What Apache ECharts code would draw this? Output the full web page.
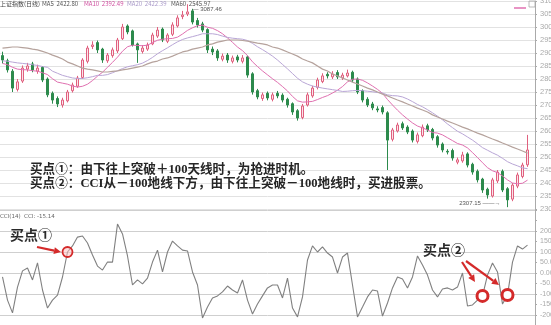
<!DOCTYPE html>
<html><head><meta charset="utf-8">
<script src="https://cdn.jsdelivr.net/npm/echarts@6/dist/echarts.min.js"></script>
<style>html,body{margin:0;padding:0;background:#fff}#c{width:551px;height:325px}</style>
</head><body><div id="c"></div>
<script>
// ---- data ----
const opens = [2890,2870,2830,2760,2792,2838,2858,2830,2845,2800,
2745,2725,2700,2716,2755,2772,2806,2868,2925,2940,
2915,2870,2890,2908,2955,3004,2985,2935,2906,2915,
2935,2965,2992,2945,2972,3004,3040,3050,3062,3025,
3012,2990,2915,2908,2876,2892,2868,2885,2868,2885,
2820,2755,2725,2745,2722,2745,2738,2722,2705,2678,
2652,2700,2735,2768,2790,2818,2808,2825,2804,2812,
2826,2800,2755,2722,2704,2685,2690,2670,2568,2600,
2628,2615,2600,2560,2582,2620,2606,2578,2550,2522,
2525,2480,2485,2512,2472,2445,2415,2376,2350,2408,
2445,2378,2338,2388,2425,2470];
const closes = [2873,2835,2765,2789,2842,2850,2835,2842,2796,2739,
2719,2704,2719,2750,2777,2804,2873,2919,2931,2912,
2873,2892,2912,2950,3000,2981,2931,2912,2919,2931,
2969,2988,2950,2969,3008,3035,3046,3058,3019,3008,
2988,2912,2904,2881,2888,2873,2881,2873,2881,2815,
2750,2731,2739,2727,2739,2735,2719,2700,2673,2650,
2696,2739,2765,2796,2812,2812,2819,2808,2815,2823,
2796,2750,2719,2700,2689,2681,2673,2565,2604,2623,
2612,2596,2565,2585,2615,2604,2573,2546,2527,2519,
2496,2489,2508,2469,2442,2412,2373,2354,2412,2442,
2373,2335,2392,2431,2469,2527];
const highs = [2905,2878,2838,2800,2852,2862,2866,2855,2850,2806,
2752,2733,2728,2758,2786,2812,2880,2928,2945,2948,
2920,2900,2921,2958,3012,3010,2990,2940,2930,2940,
2978,3000,2998,2976,3018,3045,3062,3087.46,3070,3035,
3020,2995,2925,2915,2898,2900,2890,2893,2892,2890,
2826,2762,2748,2752,2748,2754,2745,2728,2710,2684,
2704,2748,2774,2805,2822,2826,2830,2834,2824,2836,
2832,2806,2760,2730,2712,2695,2698,2676,2612,2632,
2636,2622,2606,2594,2625,2628,2612,2584,2556,2530,
2532,2498,2520,2518,2478,2452,2420,2382,2420,2450,
2452,2384,2400,2440,2478,2585];
const lows = [2860,2825,2750,2752,2785,2828,2826,2820,2788,2730,
2705,2692,2690,2710,2748,2766,2800,2860,2915,2900,
2862,2862,2882,2900,2950,2972,2925,2862,2898,2908,
2930,2958,2942,2938,2965,2998,3030,3042,3010,2998,
2980,2900,2892,2870,2868,2862,2860,2864,2860,2805,
2740,2722,2716,2718,2714,2726,2710,2690,2662,2640,
2645,2694,2728,2760,2784,2802,2800,2800,2796,2806,
2788,2742,2710,2692,2680,2672,2664,2450,2560,2594,
2604,2588,2556,2552,2576,2596,2564,2536,2518,2510,
2486,2472,2478,2460,2432,2402,2362,2340,2344,2400,
2365,2307.15,2330,2380,2418,2462];
const ma10 = [2860,2855,2845,2838,2836,2835,2832,2830,2824,2817,
2801,2788,2784,2780,2773,2769,2772,2780,2794,2811,
2826,2845,2864,2884,2907,2924,2930,2929,2928,2930,
2940,2949,2953,2955,2956,2961,2973,2987,2997,3005,
3007,2999,2995,2986,2974,2958,2941,2923,2909,2890,
2866,2848,2831,2816,2801,2787,2771,2754,2733,2716,
2711,2712,2714,2721,2729,2736,2746,2757,2771,2789,
2799,2800,2795,2785,2773,2760,2745,2721,2700,2680,
2662,2646,2631,2619,2612,2604,2594,2592,2585,2574,
2563,2552,2546,2535,2517,2498,2478,2459,2447,2440,
2427,2412,2400,2397,2399,2411];
const ma20 = [2870,2868,2865,2862,2860,2858,2855,2852,2848,2845,
2830,2822,2814,2809,2804,2802,2802,2805,2809,2814,
2814,2817,2824,2832,2840,2847,2851,2855,2861,2871,
2883,2897,2909,2920,2932,2943,2952,2958,2963,2968,
2974,2974,2974,2971,2965,2960,2957,2955,2953,2948,
2937,2924,2913,2901,2888,2873,2856,2839,2821,2803,
2789,2780,2773,2769,2765,2762,2759,2756,2752,2753,
2755,2756,2755,2753,2751,2748,2746,2739,2736,2735,
2731,2723,2713,2702,2693,2682,2670,2657,2643,2627,
2613,2599,2589,2577,2565,2551,2536,2526,2516,2507,
2495,2482,2473,2466,2458,2455];
const ma60 = [2919,2921,2923,2923,2921,2919,2915,2912,2906,2900,
2892,2885,2877,2865,2858,2850,2842,2838,2835,2831,
2827,2827,2829,2831,2835,2838,2842,2846,2850,2858,
2865,2869,2877,2881,2888,2896,2904,2908,2915,2919,
2923,2931,2935,2942,2946,2950,2950,2950,2948,2946,
2942,2938,2935,2931,2923,2919,2912,2904,2896,2888,
2877,2869,2862,2850,2838,2831,2819,2812,2804,2796,
2788,2781,2773,2765,2758,2750,2742,2735,2727,2719,
2712,2704,2696,2688,2681,2673,2662,2654,2646,2638,
2631,2623,2615,2608,2600,2592,2585,2577,2569,2562,
2554,2546,2538,2531,2523,2515];
const cci = [-19,-129,-190,-67,10,24,-33,48,-81,-167,
-129,-105,-19,100,129,171,176,143,86,33,
14,52,52,233,186,81,-57,-33,-52,-24,
52,109,5,100,152,129,109,105,5,-57,
-214,-162,-119,-109,-90,-62,-81,-95,-33,-129,
-195,-148,-109,-71,-57,-57,-119,-24,-167,-209,
-114,62,129,100,124,95,76,0,76,95,
-57,-209,-162,-114,-81,-86,-205,-143,-71,-19,
-29,-71,-19,81,38,-10,-81,-114,-76,-71,
-81,-67,0,-157,-152,-129,-109,-10,48,5,
-148,-105,52,129,114,133];
const legendTexts = ['上证指数(日线)','MA5  2422.80','MA10  2392.49','MA20  2422.39','MA60  2545.97'];
const cciTitle = 'CCI(14)  CCI: -15.14';
const note1 = '买点①：由下往上突破＋100天线时，为抢进时机。';
const note2 = '买点②：CCI从－100地线下方，由下往上突破－100地线时，买进股票。';
const buy1Label = '买点①', buy2Label = '买点②';
const highLabel = 3087.46, lowLabel = 2307.15;
const buyPoints1 = [[13, 100]];
const buyPoints2 = [[96, -109], [101, -105]];

// ---- build ----
const days = closes.map((_, i) => String(i + 1)).concat(['']);
const kData = closes.map((c, i) => [opens[i], c, lows[i], highs[i]]);
const red = '#d42a2a';
function arrow(x1, y1, x2, y2) {
  const a = Math.atan2(y2 - y1, x2 - x1), L = 7, W = 3.5;
  const bx = x2 - L * Math.cos(a), by = y2 - L * Math.sin(a);
  const nx = -Math.sin(a) * W, ny = Math.cos(a) * W;
  return [
    {type: 'line', shape: {x1, y1, x2: bx, y2: by}, style: {stroke: red, lineWidth: 2.2}, z: 100},
    {type: 'polygon', shape: {points: [[x2, y2], [bx + nx, by + ny], [bx - nx, by - ny]]}, style: {fill: red}, z: 100}
  ];
}
const legendX = [0, 42, 84, 127, 171];
const legendColors = ['#444', '#555', '#d050a0', '#a898c8', '#555'];
const graphics = legendTexts.map((t, i) => ({
  type: 'text', x: legendX[i], y: 1, z: 100,
  style: {text: t, fill: legendColors[i], font: '6px "Noto Sans CJK SC", sans-serif'}
}));
graphics.push(
  {type: 'text', x: 0, y: 214, z: 100, style: {text: cciTitle, fill: '#666', font: '5.5px "DejaVu Sans", sans-serif'}},
  {type: 'text', x: 30, y: 170, z: 100, style: {text: note1, fill: '#262626', verticalAlign: 'middle', font: 'bold 12.6px "Liberation Serif", "Noto Sans CJK SC", serif'}},
  {type: 'text', x: 30, y: 183.5, z: 100, style: {text: note2, fill: '#262626', verticalAlign: 'middle', font: 'bold 12.6px "Liberation Serif", "Noto Sans CJK SC", serif'}},
  {type: 'text', x: 10, y: 235, z: 100, style: {text: buy1Label, fill: '#2a2a2a', verticalAlign: 'middle', font: 'bold 14px "Noto Sans CJK SC", sans-serif'}},
  {type: 'text', x: 423, y: 250, z: 100, style: {text: buy2Label, fill: '#2a2a2a', verticalAlign: 'middle', font: 'bold 14px "Noto Sans CJK SC", sans-serif'}},
  {type: 'rect', shape: {x: 529, y: 1, width: 6, height: 6}, style: {fill: 'none', stroke: '#aaa', lineWidth: 0.8}, z: 100},
  {type: 'line', shape: {x1: 514, y1: 8, x2: 526, y2: 8}, style: {stroke: '#e070b0', lineWidth: 1.5}, z: 100},
  ...arrow(37, 247, 61, 252),
  ...arrow(462, 262, 475, 282),
  ...arrow(466, 261, 499, 285)
);

const chart = echarts.init(document.getElementById('c'), null, {renderer: 'canvas'});
chart.setOption({
  animation: false,
  backgroundColor: '#fff',
  grid: [
    {left: 0, right: 16, top: 1, height: 208, outerBoundsMode: 'none', containLabel: false},
    {left: 0, right: 16, top: 210, height: 126, outerBoundsMode: 'none', containLabel: false}
  ],
  xAxis: [0, 1].map(g => ({
    type: 'category', gridIndex: g, data: days, boundaryGap: true,
    axisLine: {show: false}, axisTick: {show: false}, axisLabel: {show: false}, splitLine: {show: false}
  })),
  yAxis: [
    {type: 'value', gridIndex: 0, position: 'right', min: 2300, max: 3100, interval: 50,
     axisLine: {show: true, lineStyle: {color: '#aaa'}}, axisTick: {show: true, length: 2, lineStyle: {color: '#aaa'}},
     axisLabel: {color: '#aaa', fontSize: 7.5, margin: 5, formatter: v => v.toFixed(2)},
     splitLine: {lineStyle: {color: '#e2e2e2', width: 1}}},
    {type: 'value', gridIndex: 1, position: 'right', min: -300, max: 300, interval: 50,
     axisLine: {show: true, lineStyle: {color: '#aaa'}}, axisTick: {show: true, length: 2, lineStyle: {color: '#aaa'}},
     axisLabel: {color: '#aaa', fontSize: 7, margin: 5, formatter: v => (Math.abs(v) <= 200 ? v.toFixed(2) : '')},
     splitLine: {lineStyle: {color: ['#cfcfcf', 'rgba(0,0,0,0)'], width: 1}}}
  ],
  series: [
    {type: 'candlestick', xAxisIndex: 0, yAxisIndex: 0, data: kData, barWidth: 3,
     itemStyle: {color: '#fbe4ea', borderColor: '#e0607e', color0: '#2c8a4c', borderColor0: '#2c8a4c', borderWidth: 1},
     markPoint: {symbol: 'circle', symbolSize: 0,
       data: [
         {coord: [37, highLabel], value: highLabel, label: {show: true, position: 'right', offset: [0, 5], formatter: '— ' + highLabel.toFixed(2), color: '#555', fontSize: 6}},
         {coord: [101, lowLabel], value: lowLabel, label: {show: true, position: 'left', offset: [-2, -4], formatter: lowLabel.toFixed(2) + ' ——→', color: '#555', fontSize: 6}}
       ]}},
    {type: 'line', name: 'MA10', xAxisIndex: 0, yAxisIndex: 0, data: ma10, symbol: 'none', lineStyle: {color: '#e070b0', width: 1}},
    {type: 'line', name: 'MA20', xAxisIndex: 0, yAxisIndex: 0, data: ma20, symbol: 'none', lineStyle: {color: '#b9a6d6', width: 1}},
    {type: 'line', name: 'MA60', xAxisIndex: 0, yAxisIndex: 0, data: ma60, symbol: 'none', lineStyle: {color: '#b5a29c', width: 1.2}},
    {type: 'line', name: 'CCI', xAxisIndex: 1, yAxisIndex: 1, data: cci, symbol: 'none', lineStyle: {color: '#808080', width: 1.1},
     markPoint: {
       data: buyPoints1.map(p => ({coord: p, symbol: 'circle', symbolSize: 10,
               itemStyle: {color: 'rgba(255,190,190,0.5)', borderColor: red, borderWidth: 1.8}}))
         .concat(buyPoints2.map(p => ({coord: p, symbol: 'circle', symbolSize: 11,
               itemStyle: {color: '#fff', borderColor: red, borderWidth: 3}}))),
       label: {show: false}
     }}
  ],
  graphic: graphics
});
</script></body></html>
